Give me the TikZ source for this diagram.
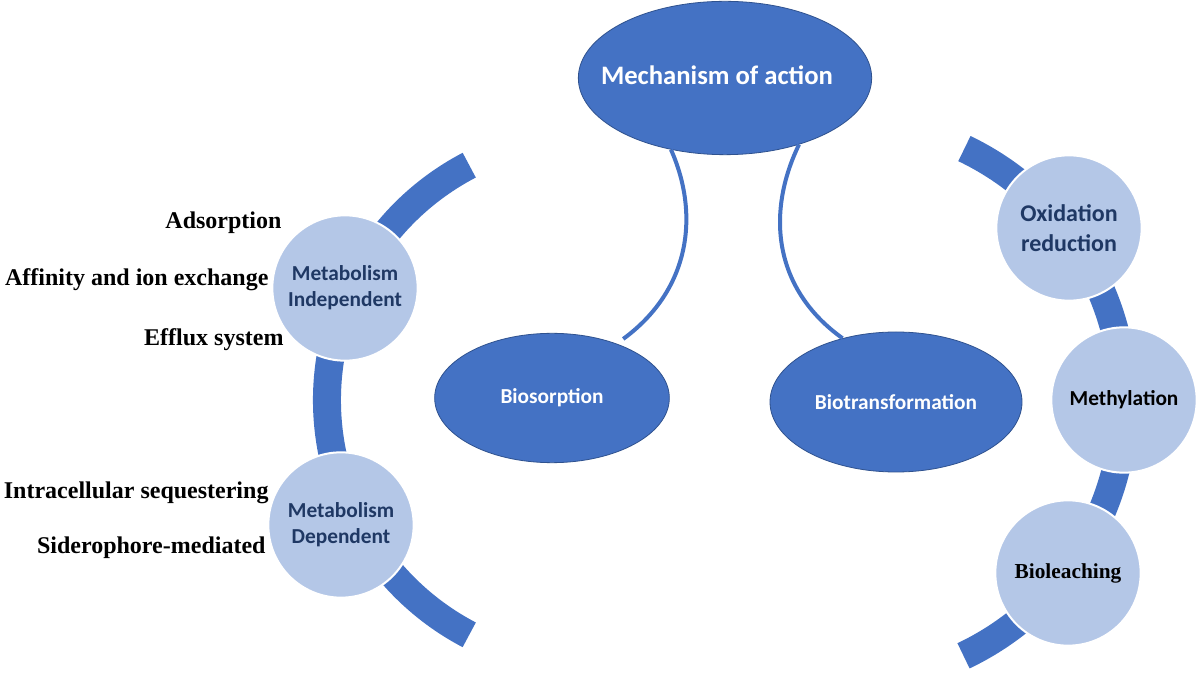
\documentclass[tikz,border=0pt]{standalone}
\usepackage{fontspec}
\setmainfont{Liberation Serif}
\newfontfamily\calibri{Carlito}
\usetikzlibrary{shapes.geometric}

\definecolor{officeblue}{RGB}{68,114,196}
\definecolor{ovaledge}{RGB}{47,82,143}
\definecolor{paleblue}{RGB}{180,199,231}
\definecolor{navytext}{RGB}{31,56,100}

\tikzset{every picture/.style={line width=0.75pt}}
\tikzset{
  bigoval/.style={ellipse, fill=officeblue, draw=ovaledge, line width=0.6pt, inner sep=0pt, text=white},
  stage/.style={circle, fill=paleblue, draw=white, line width=1.5pt, minimum size=109pt, inner sep=0pt, align=center},
  band/.style={draw=officeblue, line width=21pt},
  thinarc/.style={draw=officeblue, line width=3pt},
  sidetext/.style={anchor=east, inner sep=0.75pt, font=\bfseries\fontsize{18}{21}\selectfont}
}

\begin{document}
\begin{tikzpicture}[x=0.75pt,y=0.75pt,yscale=-1,xscale=1]
\path [use as bounding box, fill=white] (0,0) rectangle (1200,673);

%Shape: Arc [left band]
\draw [band] (592,400) ++(242.4:265) arc [start angle=242.4, end angle=117.6, radius=265];
%Shape: Arc [right band]
\draw [band] (843,402) ++(-64.4:281) arc [start angle=-64.4, end angle=64.6, radius=281];

%Shape: Ellipse [top]
\draw (725,78) node [bigoval, minimum width=220pt, minimum height=115pt, font=\calibri\bfseries\fontsize{20}{24}\selectfont] (mech) {\makebox[0pt]{\hspace*{-12pt}\raisebox{4.5pt}{Mechanism of action}}};
%Shape: Ellipse [left]
\draw (552,398) node [bigoval, minimum width=176pt, minimum height=97pt, font=\calibri\bfseries\fontsize{16}{19}\selectfont] (biosorp) {\makebox[0pt]{Biosorption}};
%Shape: Ellipse [right]
\draw (896,402) node [bigoval, minimum width=189pt, minimum height=105pt, font=\calibri\bfseries\fontsize{16}{19}\selectfont] (biotrans) {\makebox[0pt]{Biotransformation}};

%Curve Lines
\draw [thinarc, shorten >=6pt] (mech.-127) .. controls (700,215) and (690,290) .. (biosorp.40);
%Curve Lines
\draw [thinarc] (mech.-42) .. controls (765,215) and (775,290) .. (biotrans.130);

%Shape: Circle
\draw (345,288) node [stage, text=navytext, font=\calibri\bfseries\fontsize{16}{19.5}\selectfont] (metind) {Metabolism\\Independent};
%Shape: Circle
\draw (341,525) node [stage, text=navytext, font=\calibri\bfseries\fontsize{16}{19.5}\selectfont] (metdep) {Metabolism\\Dependent};
%Shape: Circle
\draw (1069,228) node [stage, text=navytext, font=\calibri\bfseries\fontsize{18}{22}\selectfont] (oxred) {Oxidation\\reduction};
%Shape: Circle
\draw (1124,400) node [stage, text=black, font=\calibri\bfseries\fontsize{16}{19}\selectfont] (methyl) {Methylation};
%Shape: Circle
\draw (1068,573) node [stage, text=black, font=\bfseries\fontsize{16}{19}\selectfont] (bioleach) {Bioleaching};

% Text Node
\draw (283,223) node [sidetext] (adsorp) {Adsorption};
% Text Node
\draw (270,280) node [sidetext] (affin) {Affinity and ion exchange};
% Text Node
\draw (285,340) node [sidetext] (efflux) {Efflux system};
% Text Node
\draw (270,493) node [sidetext] (intrac) {Intracellular sequestering};
% Text Node
\draw (267,548) node [sidetext] (sidero) {Siderophore-mediated};

\end{tikzpicture}
\end{document}
